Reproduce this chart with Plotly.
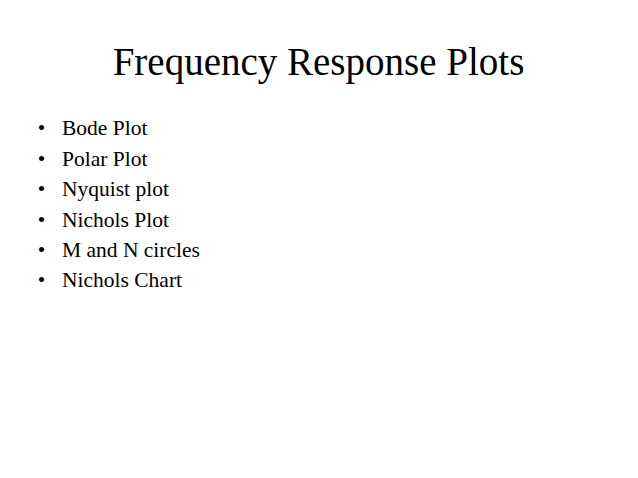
import plotly.graph_objects as go

title = "Frequency Response Plots"
items = ["Bode Plot", "Polar Plot", "Nyquist plot", "Nichols Plot",
         "M and N circles", "Nichols Chart"]

W, H = 638, 478
off = 8                  # page body margin shifts the figure by 8px
row_top = 130 - 15.2 - off
row_h = 30.4

fig = go.Figure()
fig.add_trace(go.Scatter(
    x=[41.5 - off] * len(items), y=items, mode="text", text=["•"] * len(items),
    textposition="middle center",
    textfont=dict(family="Liberation Serif", size=21.5, color="black"),
    hoverinfo="skip", showlegend=False))
fig.add_trace(go.Scatter(
    x=[62 - off] * len(items), y=items, mode="text", text=items,
    textposition="middle right",
    textfont=dict(family="Liberation Serif", size=21.5, color="black"),
    hoverinfo="skip", showlegend=False))

fig.update_layout(
    width=W, height=H, margin=dict(l=0, r=0, t=0, b=0),
    paper_bgcolor="white", plot_bgcolor="white",
    title=dict(text=title, x=(318.5 - off) / W, xanchor="center",
               y=1 - (61 - off) / H, yanchor="middle", yref="container",
               font=dict(family="Liberation Serif", size=39, color="black")),
    xaxis=dict(range=[0, W], visible=False, fixedrange=True),
    yaxis=dict(type="category", categoryorder="array", categoryarray=items,
               range=[len(items) - 0.5, -0.5], visible=False,
               domain=[1 - (row_top + row_h * len(items)) / H, 1 - row_top / H]),
)

fig.write_html("out.html", config={"displayModeBar": False})
